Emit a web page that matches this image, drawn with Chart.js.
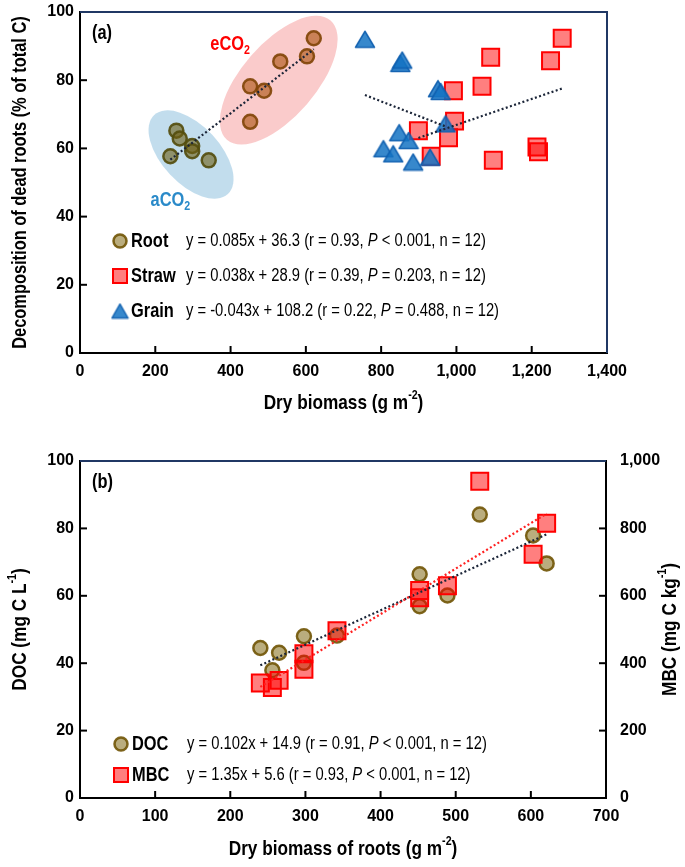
<!DOCTYPE html>
<html>
<head>
<meta charset="utf-8">
<script src="https://cdn.jsdelivr.net/npm/chart.js@4.4.1/dist/chart.umd.min.js"></script>
<style>
  html, body { margin: 0; padding: 0; background: #fff; }
  #wrap { position: relative; width: 685px; height: 867px; overflow: hidden; }
  canvas { position: absolute; left: 0; }
  #chartA { top: -10px; }
  #chartB { top: 430px; }
</style>
</head>
<body>
<div id="wrap">
  <canvas id="chartA" width="685" height="440"></canvas>
  <canvas id="chartB" width="685" height="437"></canvas>
</div>
<script>
// ---- panel (a): decomposition of dead roots vs dry biomass ----
const rootX   = [240, 256, 265, 298, 298, 342, 452, 489, 452, 532, 603, 621];
const rootY   = [57.7, 65.2, 62.9, 60.7, 59.2, 56.5, 78.2, 76.9, 67.8, 85.5, 87.0, 92.3];
const rootCO2 = ['a', 'a', 'a', 'a', 'a', 'a', 'e', 'e', 'e', 'e', 'e', 'e'];
const strawX  = [1281, 1250, 1091, 1068, 992, 995, 899, 979, 933, 1098, 1214, 1218];
const strawY  = [92.3, 85.7, 86.7, 78.2, 76.9, 68.0, 65.2, 63.1, 57.7, 56.5, 60.4, 59.0];
const grainX  = [757, 851, 856, 951, 958, 971, 848, 873, 806, 832, 885, 930];
const grainY  = [92.0, 84.9, 85.9, 77.5, 76.7, 67.2, 64.6, 62.3, 59.9, 58.4, 56.0, 57.4];

// ---- panel (b): DOC and MBC vs dry biomass of roots ----
const docX = [240, 256, 265, 298, 298, 342, 452, 452, 489, 532, 603, 621];
const docY = [44.5, 37.9, 43.1, 48.0, 40.1, 48.2, 66.4, 56.9, 60.1, 84.1, 77.9, 69.6];
const mbcX = [240, 256, 265, 298, 298, 342, 452, 452, 489, 532, 603, 621];
const mbcY = [341, 328, 349, 428, 382, 496, 616, 594, 630, 940, 723, 815];

// regression coefficients [slope, intercept], as printed on the chart
const rootFit  = [0.085, 36.3];
const strawFit = [0.038, 28.9];
const grainFit = [-0.043, 108.2];
const docFit   = [0.102, 14.9];
const mbcFit   = [1.35, 5.6];

const legendA = [
  ['Root',  'y = 0.085x + 36.3 (r = 0.93, ',  'P', ' < 0.001, n = 12)'],
  ['Straw', 'y = 0.038x + 28.9 (r = 0.39, ',  'P', ' = 0.203, n = 12)'],
  ['Grain', 'y = -0.043x + 108.2 (r = 0.22, ', 'P', ' = 0.488, n = 12)'],
];
const legendB = [
  ['DOC', 'y = 0.102x + 14.9 (r = 0.91, ', 'P', ' < 0.001, n = 12)'],
  ['MBC', 'y = 1.35x + 5.6 (r = 0.93, ',   'P', ' < 0.001, n = 12)'],
];

// ---- fonts: prefer a narrow face, squeeze the regular one if it is missing ----
const probe = document.createElement('canvas').getContext('2d');
probe.font = "20px 'Liberation Sans Narrow', monospace";
const wNarrow = probe.measureText('Decomposition of dead roots').width;
probe.font = '20px monospace';
const wMono = probe.measureText('Decomposition of dead roots').width;
const hasNarrow = Math.abs(wNarrow - wMono) > 1;
const FAMILY  = hasNarrow ? "'Liberation Sans Narrow', sans-serif" : "'Liberation Sans', Arial, sans-serif";
const SQUEEZE = hasNarrow ? 1 : 0.82;

const f = ( size, weight = 'normal', style = 'normal' ) => `${ style } ${ weight } ${ size }px ${ FAMILY }`;

const NAVY     = '#203864';
const CIRCLE   = { fill: 'rgba(130,105,20,0.55)', line: 'rgba(115,88,10,0.92)' };
const CIRCLE_A = { fill: 'rgba(110,95,20,0.6)',   line: 'rgba(85,78,15,0.92)' };
const CIRCLE_E = { fill: 'rgba(170,80,10,0.6)',   line: 'rgba(130,70,10,0.92)' };
const SQUARE   = { fill: 'rgba(255,0,0,0.5)',     line: '#ff0000' };
const TRI      = { fill: 'rgba(20,115,195,0.85)', line: 'rgba(15,95,175,0.95)' };

function drawRuns( ctx, runs, x, y, align = 'left', rot = 0 ) {
    ctx.save();
    let total = 0;
    runs.forEach( ( r ) => { ctx.font = r.font; r.w = ctx.measureText( r.t ).width; total += r.w; } );
    ctx.translate( x, y );
    if ( rot ) ctx.rotate( rot );
    ctx.scale( SQUEEZE, 1 );
    let cx = align === 'center' ? -total / 2 : 0;
    ctx.textBaseline = 'middle';
    ctx.textAlign = 'left';
    runs.forEach( ( r ) => {
        ctx.font = r.font;
        ctx.fillStyle = r.color || '#000';
        ctx.fillText( r.t, cx, r.dy || 0 );
        cx += r.w;
    } );
    ctx.restore();
}

function triangleImage( w, h, lw ) {
    const c = document.createElement( 'canvas' );
    c.width = w + lw * 2;
    c.height = h + lw * 2;
    const g = c.getContext( '2d' );
    g.beginPath();
    g.moveTo( c.width / 2, lw );
    g.lineTo( c.width - lw, c.height - lw );
    g.lineTo( lw, c.height - lw );
    g.closePath();
    g.fillStyle = TRI.fill;
    g.fill();
    g.lineWidth = lw;
    g.lineJoin = 'round';
    g.strokeStyle = TRI.line;
    g.stroke();
    return c;
}
const triImg = triangleImage( 19, 16, 1.5 );
const triLegend = triangleImage( 16, 14, 1.5 );

function marker( ctx, kind, x, y ) {
    ctx.save();
    if ( kind === 'circle' ) {
        ctx.beginPath();
        ctx.arc( x, y, 6.5, 0, Math.PI * 2 );
        ctx.fillStyle = CIRCLE.fill; ctx.fill();
        ctx.lineWidth = 2.5; ctx.strokeStyle = CIRCLE.line; ctx.stroke();
    } else if ( kind === 'square' ) {
        ctx.fillStyle = SQUARE.fill;
        ctx.fillRect( x - 7, y - 7, 14, 14 );
        ctx.lineWidth = 2; ctx.strokeStyle = SQUARE.line;
        ctx.strokeRect( x - 7, y - 7, 14, 14 );
    } else {
        ctx.drawImage( triLegend, x - triLegend.width / 2, y - triLegend.height / 2 );
    }
    ctx.restore();
}

const pts = ( xs, ys ) => xs.map( ( x, i ) => ( { x, y: ys[ i ] } ) );

function fitLine( xs, coef ) {
    const lo = Math.min( ...xs ), hi = Math.max( ...xs );
    return [ { x: lo, y: coef[ 0 ] * lo + coef[ 1 ] }, { x: hi, y: coef[ 0 ] * hi + coef[ 1 ] } ];
}

const circleSet = ( data, fill, line, yAxisID = 'y' ) => ( {
    data, yAxisID, order: 3, pointStyle: 'circle', radius: 7, borderWidth: 2.5,
    backgroundColor: fill, borderColor: line,
} );
const squareSet = ( data, yAxisID = 'y' ) => ( {
    data, yAxisID, order: 2, pointStyle: 'rect', radius: 12, borderWidth: 2,
    backgroundColor: SQUARE.fill, borderColor: SQUARE.line,
} );
const triSet = ( data ) => ( { data, order: 1, pointStyle: triImg, radius: 10 } );
const trendSet = ( data, color, yAxisID = 'y' ) => ( {
    data, yAxisID, order: 0, showLine: true, pointRadius: 0, borderColor: color,
    borderWidth: 2.2, borderDash: [ 2, 2.4 ],
} );

const tickFont = { family: FAMILY, size: hasNarrow ? 19 : 16, weight: 'bold' };
const fmt = ( v ) => Number( v ).toLocaleString( 'en-US' );

function linScale( min, max, step, extra, pad = 7 ) {
    return Object.assign( {
        type: 'linear', min, max,
        ticks: { stepSize: step, font: tickFont, color: '#000', padding: pad, callback: fmt },
        grid: { display: false, drawTicks: false },
        border: { color: '#000', width: 2 },
    }, extra );
}

// ticks point into the plot, as in the original
const inwardTicks = {
    id: 'inwardTicks',
    afterDraw( chart ) {
        const { ctx, chartArea: a } = chart;
        ctx.save();
        ctx.strokeStyle = '#000';
        ctx.lineWidth = 2;
        Object.values( chart.scales ).forEach( ( s ) => {
            s.ticks.forEach( ( t ) => {
                if ( t.value === s.min || t.value === s.max ) return;
                const p = s.getPixelForValue( t.value );
                ctx.beginPath();
                if ( s.axis === 'x' ) { ctx.moveTo( p, a.bottom ); ctx.lineTo( p, a.bottom - 7 ); }
                else if ( s.position === 'left' ) { ctx.moveTo( a.left, p ); ctx.lineTo( a.left + 7, p ); }
                else { ctx.moveTo( a.right, p ); ctx.lineTo( a.right - 7, p ); }
                ctx.stroke();
            } );
        } );
        ctx.restore();
    },
};

const sup = ( t ) => ( { t, font: f( 13, 'bold' ), dy: -8 } );
const bold = ( t, size = 21 ) => ( { t, font: f( size, 'bold' ) } );

function drawLegend( ctx, rows, kinds, x0, y0, gap ) {
    rows.forEach( ( row, i ) => {
        const y = y0 + i * gap;
        marker( ctx, kinds[ i ], x0, y );
        drawRuns( ctx, [ { t: row[ 0 ], font: f( 20, 'bold' ) } ], x0 + 11, y );
        drawRuns( ctx, [
            { t: row[ 1 ], font: f( 18 ) },
            { t: row[ 2 ], font: f( 18, 'normal', 'italic' ) },
            { t: row[ 3 ], font: f( 18 ) },
        ], x0 + 66, y );
    } );
}

// ---------------- chart (a) ----------------
const decorA = {
    id: 'decorA',
    beforeDatasetsDraw( chart ) {
        const { ctx, chartArea: a, scales: { x, y } } = chart;
        const ell = ( cx, cy, rx, ry, deg, color ) => {
            ctx.beginPath();
            ctx.ellipse( x.getPixelForValue( cx ), y.getPixelForValue( cy ), rx, ry, deg * Math.PI / 180, 0, Math.PI * 2 );
            ctx.fillStyle = color;
            ctx.fill();
        };
        ctx.save();
        ctx.beginPath(); ctx.rect( a.left, a.top, a.width, a.height ); ctx.clip();
        ell( 295, 58.2, 54, 29, 47, 'rgba(120,180,215,0.45)' );
        ell( 528, 80.0, 79, 37, -49, 'rgba(245,160,160,0.55)' );
        ctx.restore();
    },
    afterDraw( chart ) {
        const { ctx, chartArea: a, scales: { x, y } } = chart;
        ctx.save();
        ctx.strokeStyle = NAVY; ctx.lineWidth = 2;
        ctx.beginPath();
        ctx.moveTo( a.left, a.top ); ctx.lineTo( a.right, a.top ); ctx.lineTo( a.right, a.bottom );
        ctx.stroke();
        ctx.restore();

        drawRuns( ctx, [ { t: '(a)', font: f( 20, 'bold' ) } ], a.left + 12, a.top + 21 );
        drawRuns( ctx, [ { t: 'eCO', font: f( 20, 'bold' ), color: '#ff0000' }, { t: '2', font: f( 13, 'bold' ), color: '#ff0000', dy: 6 } ],
            x.getPixelForValue( 399 ), y.getPixelForValue( 90.4 ), 'center' );
        drawRuns( ctx, [ { t: 'aCO', font: f( 20, 'bold' ), color: '#2a8ac9' }, { t: '2', font: f( 13, 'bold' ), color: '#2a8ac9', dy: 6 } ],
            x.getPixelForValue( 240 ), y.getPixelForValue( 44.6 ), 'center' );

        drawLegend( ctx, legendA, [ 'circle', 'square', 'triangle' ], 120, 251, 35 );

        drawRuns( ctx, [ bold( 'Dry biomass (g m' ), sup( '-2' ), bold( ')' ) ], ( a.left + a.right ) / 2, 413, 'center' );
        drawRuns( ctx, [ bold( 'Decomposition of dead roots (% of total C)', 20 ) ], 20, ( a.top + a.bottom ) / 2, 'center', -Math.PI / 2 );
    },
};

new Chart( document.getElementById( 'chartA' ), {
    type: 'scatter',
    data: {
        datasets: [
            circleSet( pts( rootX, rootY ),
                rootCO2.map( ( g ) => ( g === 'a' ? CIRCLE_A : CIRCLE_E ).fill ),
                rootCO2.map( ( g ) => ( g === 'a' ? CIRCLE_A : CIRCLE_E ).line ) ),
            squareSet( pts( strawX, strawY ) ),
            triSet( pts( grainX, grainY ) ),
            trendSet( fitLine( rootX, rootFit ), '#1b2538' ),
            trendSet( fitLine( strawX, strawFit ), '#1b2538' ),
            trendSet( fitLine( grainX, grainFit ), '#1b2538' ),
        ],
    },
    options: {
        responsive: false,
        animation: false,
        devicePixelRatio: 1,
        layout: { padding: { top: 22, right: 78, left: 0, bottom: 0 } },
        plugins: { legend: { display: false }, tooltip: { enabled: false } },
        scales: {
            x: linScale( 0, 1400, 200, { afterFit: ( s ) => { s.height = 440 - 363; } }, 9 ),
            y: linScale( 0, 100, 20, { afterFit: ( s ) => { s.width = 80; } }, 6 ),
        },
    },
    plugins: [ decorA, inwardTicks ],
} );

// ---------------- chart (b) ----------------
const decorB = {
    id: 'decorB',
    afterDraw( chart ) {
        const { ctx, chartArea: a } = chart;
        ctx.save();
        ctx.strokeStyle = NAVY; ctx.lineWidth = 2;
        ctx.beginPath(); ctx.moveTo( a.left, a.top ); ctx.lineTo( a.right, a.top ); ctx.stroke();
        ctx.restore();

        drawRuns( ctx, [ { t: '(b)', font: f( 20, 'bold' ) } ], a.left + 12, a.top + 21 );
        drawLegend( ctx, legendB, [ 'circle', 'square' ], 121, 314, 31 );

        const midY = ( a.top + a.bottom ) / 2;
        drawRuns( ctx, [ bold( 'Dry biomass of roots (g m' ), sup( '-2' ), bold( ')' ) ], ( a.left + a.right ) / 2, 419, 'center' );
        drawRuns( ctx, [ bold( 'DOC (mg C L' ), sup( '-1' ), bold( ')' ) ], 20, midY, 'center', -Math.PI / 2 );
        drawRuns( ctx, [ bold( 'MBC (mg C kg' ), sup( '-1' ), bold( ')' ) ], 670, midY, 'center', -Math.PI / 2 );
    },
};

new Chart( document.getElementById( 'chartB' ), {
    type: 'scatter',
    data: {
        datasets: [
            circleSet( pts( docX, docY ), CIRCLE.fill, CIRCLE.line ),
            squareSet( pts( mbcX, mbcY ), 'y2' ),
            trendSet( fitLine( mbcX, mbcFit ), '#ff2020', 'y2' ),
            trendSet( fitLine( docX, docFit ), '#1b2538' ),
        ],
    },
    options: {
        responsive: false,
        animation: false,
        devicePixelRatio: 1,
        layout: { padding: { top: 31, right: 0, left: 0, bottom: 0 } },
        plugins: { legend: { display: false }, tooltip: { enabled: false } },
        scales: {
            x: linScale( 0, 700, 100, { afterFit: ( s ) => { s.height = 437 - 368; } }, 9 ),
            y: linScale( 0, 100, 20, { afterFit: ( s ) => { s.width = 80; } }, 6 ),
            y2: linScale( 0, 1000, 200, {
                position: 'right',
                afterFit: ( s ) => { s.width = 685 - 606; },
            }, 14 ),
        },
    },
    plugins: [ decorB, inwardTicks ],
} );
</script>
</body>
</html>
